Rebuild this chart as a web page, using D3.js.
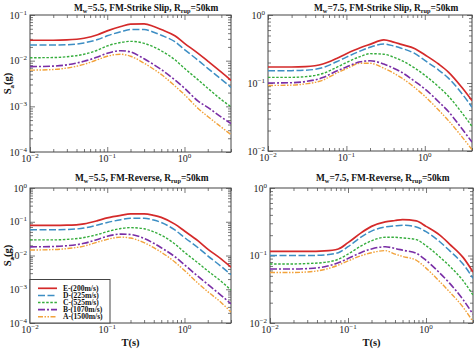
<!DOCTYPE html>
<html><head><meta charset="utf-8">
<script src="https://cdn.jsdelivr.net/npm/d3@7"></script>
<style>body{margin:0;background:#fff}svg{display:block}</style>
</head><body><svg id="c" width="474" height="349"></svg>
<script>
// ---- data ----
const periods = [0.01,0.02,0.03,0.05,0.075,0.1,0.15,0.2,0.3,0.4,0.5,0.75,1,1.5,2,3,4];
const siteNames = ["E-(200m/s)","D-(225m/s)","C-(525m/s)","B-(1070m/s)","A-(1500m/s)"];
const xTickValues = [0.01,0.1,1];

// M5.5 Strike Slip
const ssM55E = [0.028,0.028,0.0285,0.031,0.037,0.045,0.056,0.063,0.064,0.056,0.048,0.035,0.024,0.0145,0.0098,0.0056,0.0037];
const ssM55D = [0.022,0.022,0.0223,0.0245,0.029,0.035,0.043,0.048,0.048,0.042,0.036,0.026,0.0175,0.0102,0.0068,0.0039,0.0026];
const ssM55C = [0.0116,0.0117,0.0122,0.0138,0.017,0.021,0.025,0.0265,0.024,0.02,0.0165,0.0105,0.0068,0.0038,0.0025,0.0014,0.00098];
const ssM55B = [0.0074,0.0076,0.0081,0.0097,0.012,0.0145,0.0165,0.0155,0.011,0.0082,0.0064,0.0038,0.0025,0.0013,0.00095,0.00058,0.00042];
const ssM55A = [0.0062,0.0064,0.0069,0.0083,0.0105,0.0125,0.0138,0.0125,0.0088,0.0065,0.005,0.0028,0.0018,0.0009,0.0006,0.00035,0.00024];

// M7.5 Strike Slip
const ssM75E = [0.172,0.172,0.174,0.19,0.23,0.27,0.33,0.37,0.43,0.4,0.37,0.32,0.26,0.19,0.145,0.085,0.055];
const ssM75D = [0.152,0.152,0.154,0.168,0.205,0.24,0.295,0.335,0.375,0.35,0.325,0.27,0.215,0.155,0.118,0.069,0.044];
const ssM75C = [0.121,0.121,0.124,0.138,0.17,0.2,0.245,0.27,0.265,0.24,0.215,0.165,0.13,0.088,0.064,0.036,0.023];
const ssM75B = [0.1,0.101,0.105,0.12,0.15,0.172,0.205,0.212,0.19,0.165,0.145,0.105,0.082,0.053,0.038,0.021,0.0135];
const ssM75A = [0.092,0.093,0.097,0.11,0.14,0.162,0.195,0.195,0.165,0.14,0.12,0.085,0.064,0.04,0.028,0.016,0.0105];

// M5.5 Reverse
const rvM55E = [0.078,0.078,0.079,0.087,0.108,0.13,0.155,0.17,0.172,0.155,0.135,0.085,0.053,0.027,0.0155,0.0078,0.0045];
const rvM55D = [0.058,0.058,0.059,0.065,0.08,0.095,0.115,0.127,0.128,0.112,0.095,0.057,0.034,0.017,0.0098,0.0047,0.0027];
const rvM55C = [0.029,0.029,0.03,0.034,0.042,0.051,0.063,0.067,0.062,0.05,0.04,0.022,0.0125,0.006,0.0035,0.0017,0.00095];
const rvM55B = [0.018,0.0185,0.0195,0.023,0.03,0.037,0.043,0.042,0.032,0.023,0.017,0.0092,0.0053,0.0024,0.0014,0.00065,0.00037];
const rvM55A = [0.0145,0.015,0.016,0.019,0.025,0.03,0.035,0.033,0.024,0.017,0.0125,0.0064,0.0036,0.0015,0.00085,0.0004,0.00021];

// M7.5 Reverse
const rvM75E = [0.115,0.115,0.115,0.117,0.125,0.155,0.22,0.27,0.315,0.33,0.34,0.325,0.27,0.2,0.148,0.093,0.057];
const rvM75D = [0.1,0.1,0.1,0.102,0.11,0.135,0.19,0.23,0.265,0.275,0.28,0.265,0.225,0.16,0.118,0.074,0.046];
const rvM75C = [0.075,0.075,0.076,0.079,0.088,0.105,0.14,0.165,0.186,0.186,0.182,0.172,0.14,0.095,0.07,0.042,0.026];
const rvM75B = [0.063,0.063,0.064,0.068,0.078,0.09,0.112,0.125,0.135,0.127,0.12,0.108,0.085,0.055,0.039,0.022,0.0135];
const rvM75A = [0.056,0.056,0.057,0.062,0.072,0.083,0.1,0.11,0.118,0.105,0.097,0.085,0.065,0.041,0.029,0.017,0.0105];

const titles = [
  {mag:"5.5", fm:"FM-Strike Slip"},
  {mag:"7.5", fm:"FM-Strike Slip"},
  {mag:"5.5", fm:"FM-Reverse"},
  {mag:"7.5", fm:"FM-Reverse"}
];

// ---- styles ----
const colors = ["#d42a2a","#3d8ec4","#35ad3c","#7a2ea6","#f2a23a"];
const dashes = [null,"7,2.5","2.5,1.6","7,2,2,2","5,1.5,1.5,1.5,1.5,1.5"];
const widths = [1.7,1.5,1.4,1.6,1.4];

const panels = [
  {x0:30, x1:231, y0:15, y1:152, yd:[1e-4,1e-1], series:[ssM55E,ssM55D,ssM55C,ssM55B,ssM55A], title:titles[0], tx:74, ty:11, ylab:true, xlab:false, legend:false},
  {x0:268,x1:472, y0:15, y1:151, yd:[1e-2,1],    series:[ssM75E,ssM75D,ssM75C,ssM75B,ssM75A], title:titles[1], tx:314, ty:11, ylab:false, xlab:false, legend:false},
  {x0:30, x1:231, y0:188,y1:323, yd:[1e-4,1],    series:[rvM55E,rvM55D,rvM55C,rvM55B,rvM55A], title:titles[2], tx:75, ty:181, ylab:true, xlab:true, legend:true},
  {x0:270,x1:473, y0:188,y1:323, yd:[1e-2,1],    series:[rvM75E,rvM75D,rvM75C,rvM75B,rvM75A], title:titles[3], tx:316, ty:181, ylab:false, xlab:true, legend:false}
];

const svg = d3.select("#c");
const serif = "'Liberation Serif','Times New Roman',serif";

function pow10Label(sel, d){
  const e = Math.round(Math.log10(d));
  sel.append("tspan").text("10");
  sel.append("tspan").attr("dy",-4).attr("font-size",7).text(String(e).replace("-","\u2212"));
}

panels.forEach((p,pi)=>{
  const x = d3.scaleLog().domain([0.01,4]).range([p.x0,p.x1]);
  const y = d3.scaleLog().domain(p.yd).range([p.y1,p.y0]);
  const g = svg.append("g");

  const clipId = "clip"+pi;
  svg.append("clipPath").attr("id",clipId).append("rect")
    .attr("x",p.x0).attr("y",p.y0).attr("width",p.x1-p.x0).attr("height",p.y1-p.y0);

  const xMaj = xTickValues;
  const xMin = x.ticks().filter(d=>!xMaj.some(m=>Math.abs(m-d)<1e-12));
  const yAll = y.ticks();
  const yMaj = yAll.filter(d=>Math.abs(Math.log10(d)-Math.round(Math.log10(d)))<1e-9);
  const yMin = yAll.filter(d=>!yMaj.includes(d));

  function axes(vals,len){
    g.append("g").attr("transform",`translate(0,${p.y1})`)
      .call(d3.axisBottom(x).tickValues(vals).tickSize(-len).tickFormat("").tickSizeOuter(0));
    g.append("g").attr("transform",`translate(0,${p.y0})`)
      .call(d3.axisTop(x).tickValues(vals).tickSize(-len).tickFormat("").tickSizeOuter(0));
  }
  function yaxes(vals,len){
    g.append("g").attr("transform",`translate(${p.x0},0)`)
      .call(d3.axisLeft(y).tickValues(vals).tickSize(-len).tickFormat("").tickSizeOuter(0));
    g.append("g").attr("transform",`translate(${p.x1},0)`)
      .call(d3.axisRight(y).tickValues(vals).tickSize(-len).tickFormat("").tickSizeOuter(0));
  }
  axes(xMaj,5); axes(xMin,3); yaxes(yMaj,5); yaxes(yMin,3);
  g.selectAll(".domain").remove();
  g.selectAll(".tick line").attr("stroke","#555").attr("stroke-width",0.8);

  g.append("rect").attr("x",p.x0).attr("y",p.y0).attr("width",p.x1-p.x0).attr("height",p.y1-p.y0)
    .attr("fill","none").attr("stroke","#444").attr("stroke-width",1);

  g.selectAll("text.xl").data(xMaj).join("text").attr("class","xl")
    .attr("x",d=>x(d)).attr("y",p.y1+9.5).attr("text-anchor","middle")
    .attr("font-family",serif).attr("font-size",10).attr("fill","#222")
    .each(function(d){pow10Label(d3.select(this),d);});
  g.selectAll("text.yl").data(yMaj).join("text").attr("class","yl")
    .attr("x",p.x0-3).attr("y",d=>y(d)+3.5).attr("text-anchor","end")
    .attr("font-family",serif).attr("font-size",10).attr("fill","#222")
    .each(function(d){pow10Label(d3.select(this),d);});

  const line = d3.line().x((d,i)=>x(periods[i])).y(d=>y(d)).curve(d3.curveMonotoneX);
  const lg = g.append("g").attr("clip-path",`url(#${clipId})`);
  p.series.slice().reverse().forEach((s,ri)=>{
    const k = p.series.length-1-ri;
    lg.append("path").datum(s).attr("d",line).attr("fill","none")
      .attr("stroke",colors[k]).attr("stroke-width",widths[k])
      .attr("stroke-dasharray",dashes[k]);
  });

  const t = svg.append("text").attr("x",p.tx).attr("y",p.ty)
    .attr("font-family",serif).attr("font-weight","bold").attr("font-size",9.4).attr("fill","#111");
  t.append("tspan").text("M");
  t.append("tspan").attr("dy",2.2).attr("font-size",6.3).text("w");
  t.append("tspan").attr("dy",-2.2).text("="+p.title.mag+", "+p.title.fm+", R");
  t.append("tspan").attr("dy",2.2).attr("font-size",6.3).text("rup");
  t.append("tspan").attr("dy",-2.2).text("=50km");

  if(p.ylab){
    const cy=(p.y0+p.y1)/2;
    const yl = svg.append("text").attr("transform",`translate(11,${cy}) rotate(-90)`)
      .attr("text-anchor","middle").attr("font-family",serif).attr("font-weight","bold")
      .attr("font-size",10.5).attr("fill","#111");
    yl.append("tspan").text("S");
    yl.append("tspan").attr("dy",2.5).attr("font-size",7).text("a");
    yl.append("tspan").attr("dy",-2.5).text("(g)");
  }
  if(p.xlab){
    svg.append("text").attr("x",x(0.2)).attr("y",346).attr("text-anchor","middle")
      .attr("font-family",serif).attr("font-weight","bold").attr("font-size",10.5).attr("fill","#111")
      .text("T(s)");
  }
  if(p.legend){
    const lx=p.x0, ly=279.5, lw=80, lh=p.y1-ly;
    svg.append("rect").attr("x",lx).attr("y",ly).attr("width",lw).attr("height",lh)
      .attr("fill","#fff").attr("stroke","#444").attr("stroke-width",1);
    const rows = svg.append("g");
    siteNames.forEach((n,i)=>{
      const ry = 288.3 + i*7.1;
      rows.append("line").attr("x1",lx+8).attr("x2",lx+27).attr("y1",ry).attr("y2",ry)
        .attr("stroke",colors[i]).attr("stroke-width",widths[i]).attr("stroke-dasharray",dashes[i]);
      rows.append("text").attr("x",lx+33).attr("y",ry+2.7).attr("font-family",serif)
        .attr("font-weight","bold").attr("font-size",7.6).attr("fill","#111").text(n);
    });
  }
});
</script></body></html>
